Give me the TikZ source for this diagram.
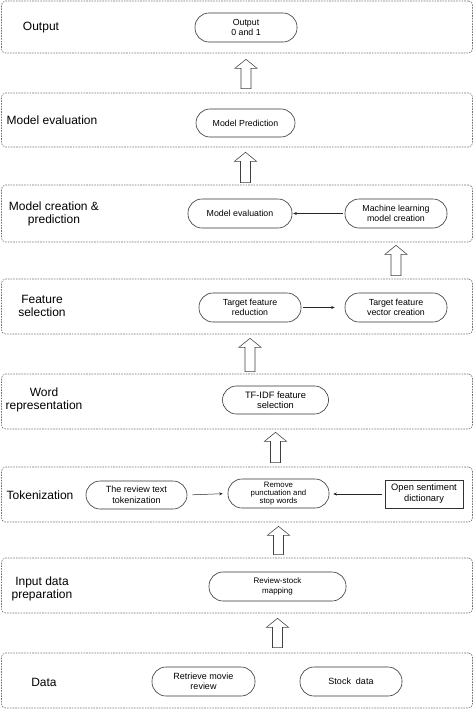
\documentclass[tikz,border=0pt]{standalone}
\usepackage{fontspec}
\setmainfont{Liberation Sans}
\usetikzlibrary{calc,arrows.meta}
\tikzset{
  band/.style={draw=black!55, dash pattern=on 1.6pt off 1.1pt, line width=0.6pt, rounded corners=4pt, minimum width=471pt, inner sep=0pt},
  proc/.style={draw=black!80, line width=0.6pt, rounded corners=14pt, minimum height=29pt, inner sep=0pt, align=center, font=\fontsize{8.8}{10}\selectfont},
  sqbox/.style={draw=black!80, line width=0.6pt, minimum height=28pt, inner sep=0pt, align=center, font=\fontsize{9.3}{11}\selectfont},
  lbl/.style={align=center, font=\fontsize{12}{13.5}\selectfont, inner sep=0pt},
  flow/.style={draw=black!85, line width=0.5pt, -{Stealth[length=3.5pt,width=3pt]}},
  blockarrow/.style={draw=black!75, line width=0.55pt, fill=white,
    to path={let \p1=(\tikztostart), \p2=(\tikztotarget) in
      (\x1-5pt,\y1) -- (\x1+5pt,\y1) -- (\x1+5pt,\y2-9pt) -- (\x1+11pt,\y2-9pt) -- (\x2,\y2) -- (\x1-11pt,\y2-9pt) -- (\x1-5pt,\y2-9pt) -- cycle}}
}
\begin{document}
\begin{tikzpicture}[x=1pt,y=-1pt]
\useasboundingbox (0,0) rectangle (474,709);
% bands
\node[band, minimum height=52pt] (b1) at (237,27) {};
\node[band, minimum height=54pt] (b2) at (237,120) {};
\node[band, minimum height=57pt] (b3) at (237,213.5) {};
\node[band, minimum height=55pt] (b4) at (237,306.5) {};
\node[band, minimum height=55pt] (b5) at (237,401.5) {};
\node[band, minimum height=55pt] (b6) at (237,494.5) {};
\node[band, minimum height=55pt] (b7) at (237,585.5) {};
\node[band, minimum height=55pt] (b8) at (237,680.5) {};
% labels
\node[lbl] (l1) at (41,28) {Output};
\node[lbl] (l2) at (52,120) {Model evaluation};
\node[lbl] (l3) at (54,214) {Model creation \&\\prediction};
\node[lbl] (l4) at (42,306) {Feature\\selection};
\node[lbl] (l5) at (44,400) {Word\\representation};
\node[lbl] (l6) at (40,495) {Tokenization};
\node[lbl] (l7) at (42,589) {Input data\\preparation};
\node[lbl] (l8) at (44,682) {Data};
% process nodes
\node[proc, minimum width=102pt] (out) at (246,27.5) {Output\\0 and 1};
\node[proc, minimum width=99pt, minimum height=28pt] (mp) at (245.5,123) {Model Prediction};
\node[proc, minimum width=104pt] (me) at (240,213.5) {Model evaluation};
\node[proc, minimum width=102pt] (ml) at (396,213.5) {Machine learning\\model creation};
\node[proc, minimum width=102pt] (tfr) at (250,307.5) {Target feature\\reduction};
\node[proc, minimum width=102pt] (tfv) at (396,307.5) {Target feature\\vector creation};
\node[proc, minimum width=106pt, minimum height=28pt, font=\fontsize{9.3}{10}\selectfont] (tfidf) at (275.5,400) {TF-IDF feature\\selection};
\node[proc, minimum width=101pt, minimum height=28pt, font=\fontsize{9}{10.5}\selectfont] (rtt) at (136.5,495) {The review text\\tokenization};
\node[proc, minimum width=101pt, font=\fontsize{7.8}{8.3}\selectfont] (rem) at (278.5,493.5) {Remove\\punctuation and\\stop words};
\node[sqbox, minimum width=78pt] (osd) at (424,494) {Open sentiment\\dictionary};
\node[proc, minimum width=137pt, font=\fontsize{8}{10}\selectfont] (rsm) at (277.5,586.5) {Review-stock\\mapping};
\node[proc, minimum width=103pt, font=\fontsize{9}{10.5}\selectfont] (rmr) at (203.5,681.5) {Retrieve movie\\review};
\node[proc, minimum width=102pt, font=\fontsize{9}{10.5}\selectfont] (sd) at (351,681.5) {Stock~~data};
% small flow arrows
\draw[flow, shorten <=2pt, shorten >=1pt] (ml.west) -- (me.east);
\draw[flow, shorten <=2pt, shorten >=10pt] (tfr.east) -- (tfv.west);
\draw[flow, shorten <=5pt, shorten >=5pt] (rtt.east) -- (rem.west);
\draw[flow, shorten <=3pt, shorten >=4pt] (osd.west) -- (rem.east |- osd.west);
% block arrows between bands
\draw[blockarrow] ($(b2.north -| out)+(0,-4)$) to ($(b1.south -| out)+(0,6)$);
\draw[blockarrow] ($(b3.north -| mp)+(0,-2)$) to ($(b2.south -| mp)+(0,5)$);
\draw[blockarrow] ($(b4.north -| ml)+(0,-3)$) to ($(b3.south -| ml)+(0,3)$);
\draw[blockarrow] ($(b5.north -| tfr)+(0,-2)$) to ($(b4.south -| tfr)+(0,4)$);
\draw[blockarrow] ($(b6.north -| tfidf)+(0,-4)$) to ($(b5.south -| tfidf)+(0,3)$);
\draw[blockarrow] ($(b7.north -| rem)+(0,-3)$) to ($(b6.south -| rem)+(0,4)$);
\draw[blockarrow] ($(b8.north -| rsm)+(0,-5)$) to ($(b7.south -| rsm)+(0,5)$);
\end{tikzpicture}
\end{document}
